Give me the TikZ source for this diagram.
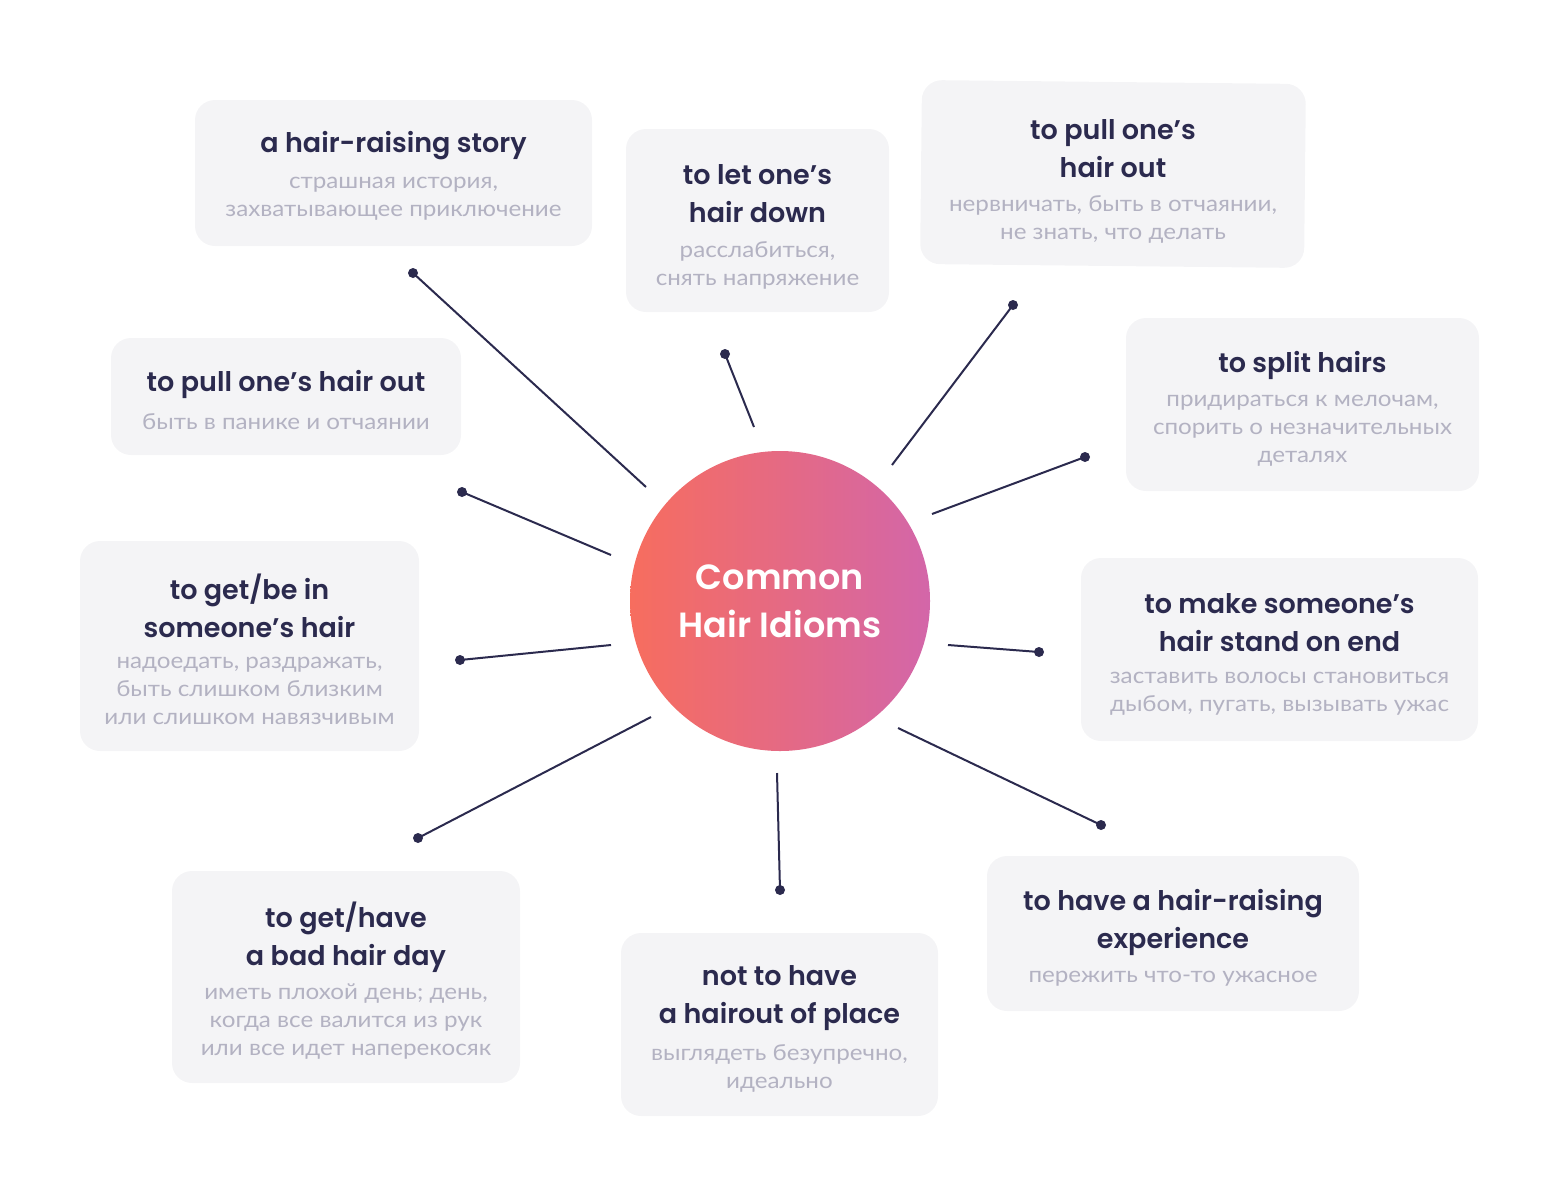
\documentclass[tikz,border=0pt]{standalone}
\usepackage{fontspec}
\newfontfamily\titlefont{Poppins SemiBold}
\newfontfamily\descfont{Lato}[FakeStretch=1.1]
\definecolor{boxfill}{HTML}{F4F4F6}
\definecolor{titlec}{HTML}{2B2A4E}
\definecolor{descc}{HTML}{B3B2C2}
\definecolor{linec}{HTML}{2B2A4E}
\definecolor{gL}{HTML}{F76D5E}
\definecolor{gR}{HTML}{D366A9}
\tikzset{
  card/.style={draw=none, fill=boxfill, rounded corners=20pt, inner sep=0pt},
  ttl/.style={text=titlec, align=center, inner sep=0pt, yshift=-3pt, font=\titlefont\fontsize{27}{38}\selectfont},
  dsc/.style={text=descc, align=center, inner sep=0pt, yshift=-3.5pt, font=\descfont\fontsize{22}{28}\selectfont},
  tip/.style={circle, fill=linec, inner sep=0pt, minimum size=10pt},
  conn/.style={draw=linec, line width=2pt},
}
\begin{document}
\begin{tikzpicture}[x=1pt, y=-1pt]
\useasboundingbox (0,0) rectangle (1560,1200);
% cards
\node[card, minimum width=397pt, minimum height=146pt] (b1) at (393.5,173) {};
\node[ttl] (t1) at (393.5,143) {a hair-raising story};
\node[dsc] (s1) at (393.5,195) {страшная история,\\захватывающее приключение};

\node[card, minimum width=263pt, minimum height=183pt] (b2) at (757.5,220.5) {};
\node[ttl] (t2) at (757.5,191) {to let one’s\\hair down};
\node[dsc] (s2) at (757.5,261.5) {расслабиться,\\снять напряжение};

\node[card, minimum width=384pt, minimum height=184pt, rotate=-0.6] (b3) at (1113,174) {};
\node[ttl] (t3) at (1113,145.5) {to pull one’s\\hair out};
\node[dsc] (s3) at (1113,215.5) {нервничать, быть в отчаянии,\\не знать, что делать};

\node[card, minimum width=353pt, minimum height=173pt] (b4) at (1302.5,404.5) {};
\node[ttl] (t4) at (1302.5,362) {to split hairs};
\node[dsc] (s4) at (1302.5,427) {придираться к мелочам,\\спорить о незначительных\\деталях};

\node[card, minimum width=397pt, minimum height=183pt] (b5) at (1279.5,649.5) {};
\node[ttl] (t5) at (1279.5,620) {to make someone’s\\hair stand on end};
\node[dsc] (s5) at (1279.5,690) {заставить волосы становиться\\дыбом, пугать, вызывать ужас};

\node[card, minimum width=372pt, minimum height=155pt] (b6) at (1173,933.5) {};
\node[ttl] (t6) at (1173,919) {to have a hair-raising\\experience};
\node[dsc] (s6) at (1173,975) {пережить что-то ужасное};

\node[card, minimum width=317pt, minimum height=183pt] (b7) at (779.5,1024.5) {};
\node[ttl] (t7) at (779.5,995) {not to have\\a hairout of place};
\node[dsc] (s7) at (779.5,1065) {выглядеть безупречно,\\идеально};

\node[card, minimum width=348pt, minimum height=212pt] (b8) at (346,977) {};
\node[ttl] (t8) at (346,934) {to get/have\\a bad hair day};
\node[dsc] (s8) at (346,1018) {иметь плохой день; день,\\когда все валится из рук\\или все идет наперекосяк};

\node[card, minimum width=339pt, minimum height=210pt] (b9) at (249.5,646) {};
\node[ttl] (t9) at (249.5,603) {to get/be in\\someone’s hair};
\node[dsc] (s9) at (249.5,687) {надоедать, раздражать,\\быть слишком близким\\или слишком навязчивым};

\node[card, minimum width=350pt, minimum height=117pt] (b10) at (286,396.5) {};
\node[ttl] (t10) at (286,381) {to pull one’s hair out};
\node[dsc] (s10) at (286,418) {быть в панике и отчаянии};

% hub
\node[circle, minimum size=300pt, inner sep=0pt, left color=gL, right color=gR, draw=none,
      text=white, align=center, font=\titlefont\fontsize{35}{48}\selectfont] (hub) at (780,601) {Common\\Hair Idioms};

% connector ends
\node[tip] (d1) at (413,273) {};   \coordinate (e1) at (646,487);
\node[tip] (d2) at (725,354) {};   \coordinate (e2) at (754,427);
\node[tip] (d3) at (1013,305) {};  \coordinate (e3) at (892,465);
\node[tip] (d4) at (1085,457) {};  \coordinate (e4) at (932,514);
\node[tip] (d5) at (1039,652) {};  \coordinate (e5) at (948,645);
\node[tip] (d6) at (1101,825) {};  \coordinate (e6) at (898,728);
\node[tip] (d7) at (780,890) {};   \coordinate (e7) at (777,773);
\node[tip] (d8) at (418,838) {};   \coordinate (e8) at (651,717);
\node[tip] (d9) at (460,660) {};   \coordinate (e9) at (611,645);
\node[tip] (d10) at (462,492) {};  \coordinate (e10) at (611,555);
\foreach \i in {1,...,10} { \draw[conn] (d\i.center) -- (e\i); }
\end{tikzpicture}
\end{document}
